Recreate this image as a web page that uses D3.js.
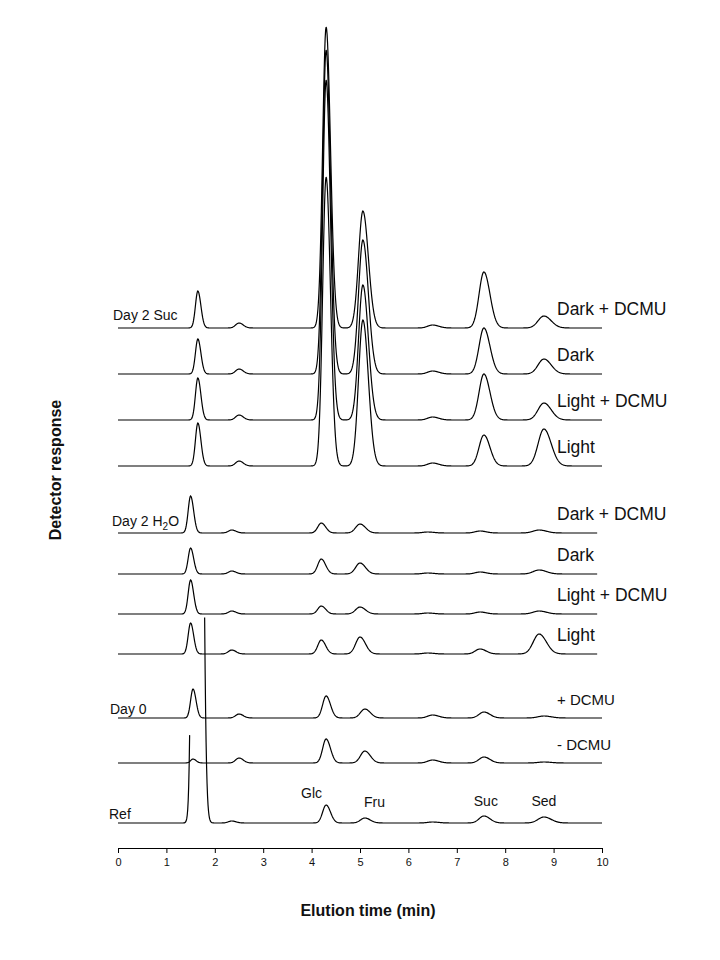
<!DOCTYPE html>
<html><head><meta charset="utf-8">
<script src="https://cdn.jsdelivr.net/npm/d3@7"></script>
<style>body{margin:0;background:#fff}text{font-family:"Liberation Sans",Arial,sans-serif;fill:#111}</style>
</head><body><svg id="chart" width="720" height="960"></svg>
<script>
// peak retention times (min) and widths (sigma, min)
var peakTimes = {
  suc: [1.65, 2.5, 4.3, 5.06, 6.5, 7.56, 8.8],
  h2o: [1.5, 2.35, 4.2, 5.0, 6.4, 7.48, 8.7],
  day0: [1.55, 2.5, 4.3, 5.1, 6.5, 7.56, 8.8],
  ref: [1.63, 2.35, 4.3, 5.1, 6.5, 7.56, 8.8]
};
var peakWidths = [0.05, 0.07, 0.072, 0.09, 0.1, 0.1, 0.12];

// trace names, baseline offsets (response units from axis) and peak heights
var sucNames = ['Dark + DCMU', 'Dark', 'Light + DCMU', 'Light'];
var sucBase = [520, 474, 428, 382];
var sucHeights = [
  [37, 5, 301, 117, 3, 56, 12],
  [35, 5, 324, 134, 3, 46, 15],
  [42, 5, 340, 135, 3, 46, 17],
  [43, 5, 289, 146, 3, 31, 37]
];
var h2oNames = ['Dark + DCMU', 'Dark', 'Light + DCMU', 'Light'];
var h2oBase = [315, 274, 234, 194];
var h2oHeights = [
  [37, 3, 10, 9, 1, 2, 3],
  [26, 3, 15, 11, 1, 2, 4],
  [34, 3, 8, 7, 1, 2, 3],
  [31, 4, 14, 17, 1, 5, 20]
];
var day0Names = ['+ DCMU', '- DCMU'];
var day0Base = [130, 85];
var day0Heights = [
  [29, 4, 22, 9, 3, 6, 2],
  [4, 5, 24, 12, 3, 6, 1]
];
var refBase = 25;
var refHeights = [2000, 2, 18, 5, 1, 7, 6];
var refGap = [1.48, 1.79];
var peakLabels = ['Glc', 'Fru', 'Suc', 'Sed'];
var peakLabelTimes = [4.0, 5.3, 7.6, 8.8];
var peakLabelLevels = [50, 41, 42, 42];
var xTicks = d3.range(0, 11);

var svg = d3.select('#chart');
var x = d3.scaleLinear().domain([0, 10]).range([118, 602]);
var y = d3.scaleLinear().domain([0, 848]).range([848, 0]);

function trace(times, heights, base, t0, t1, w0) {
  return d3.range(t0, t1 + 0.0001, 0.01).map(function (t) {
    var v = base;
    times.forEach(function (c, i) {
      var s = (i === 0 && w0 ? w0 : peakWidths[i]) * (t > c ? 1.25 : 1);
      v += heights[i] * Math.exp(-0.5 * Math.pow((t - c) / s, 2));
    });
    return [t, v];
  });
}
var line = d3.line().x(function (d) { return x(d[0]); }).y(function (d) { return y(d[1]); });

function drawGroup(times, heights, bases, names, fs, tEnd, labelX) {
  heights.forEach(function (h, i) {
    svg.append('path').attr('d', line(trace(times, h, bases[i], 0, tEnd)))
      .attr('fill', 'none').attr('stroke', '#000').attr('stroke-width', 1.2);
    svg.append('text').attr('x', labelX).attr('y', y(bases[i]) - 13)
      .style('font-size', fs + 'px').text(names[i]);
  });
}
drawGroup(peakTimes.suc, sucHeights, sucBase, sucNames, 17.5, 10, 557);
drawGroup(peakTimes.h2o, h2oHeights, h2oBase, h2oNames, 17.5, 9.9, 557);
drawGroup(peakTimes.day0, day0Heights, day0Base, day0Names, 15, 10, 557);

// reference trace, clipped off-scale around the solvent peak
svg.append('path').attr('d', line(trace(peakTimes.ref, refHeights, refBase, 0, refGap[0], 0.06)))
  .attr('fill', 'none').attr('stroke', '#000').attr('stroke-width', 1.2);
svg.append('path').attr('d', line(trace(peakTimes.ref, refHeights, refBase, refGap[1], 10, 0.06)))
  .attr('fill', 'none').attr('stroke', '#000').attr('stroke-width', 1.2);

// group labels
svg.append('text').attr('x', 113).attr('y', 320).style('font-size', '14px').text('Day 2 Suc');
var t2 = svg.append('text').attr('x', 112).attr('y', 526).style('font-size', '14px');
t2.append('tspan').text('Day 2 H');
t2.append('tspan').attr('dy', 4).style('font-size', '10px').text('2');
t2.append('tspan').attr('dy', -4).text('O');
svg.append('text').attr('x', 110).attr('y', 714).style('font-size', '14px').text('Day 0');
svg.append('text').attr('x', 109).attr('y', 819).style('font-size', '14px').text('Ref');

peakLabels.forEach(function (l, i) {
  svg.append('text').attr('x', x(peakLabelTimes[i])).attr('y', y(peakLabelLevels[i]))
    .attr('text-anchor', 'middle').style('font-size', '14px').text(l);
});

// axis
svg.append('g').attr('transform', 'translate(0,848)')
  .call(d3.axisBottom(x).tickValues(xTicks).tickSize(5).tickSizeOuter(0).tickFormat(d3.format('d')))
  .call(function (g) {
    g.select('.domain').attr('stroke', '#000');
    g.selectAll('text').style('font-size', '11px').attr('dy', '0.9em');
  });

svg.append('text').attr('x', 368).attr('y', 916).attr('text-anchor', 'middle')
  .style('font-size', '16px').style('font-weight', 'bold').text('Elution time (min)');
svg.append('text').attr('transform', 'translate(61,470) rotate(-90)').attr('text-anchor', 'middle')
  .style('font-size', '16px').style('font-weight', 'bold').text('Detector response');
</script></body></html>
